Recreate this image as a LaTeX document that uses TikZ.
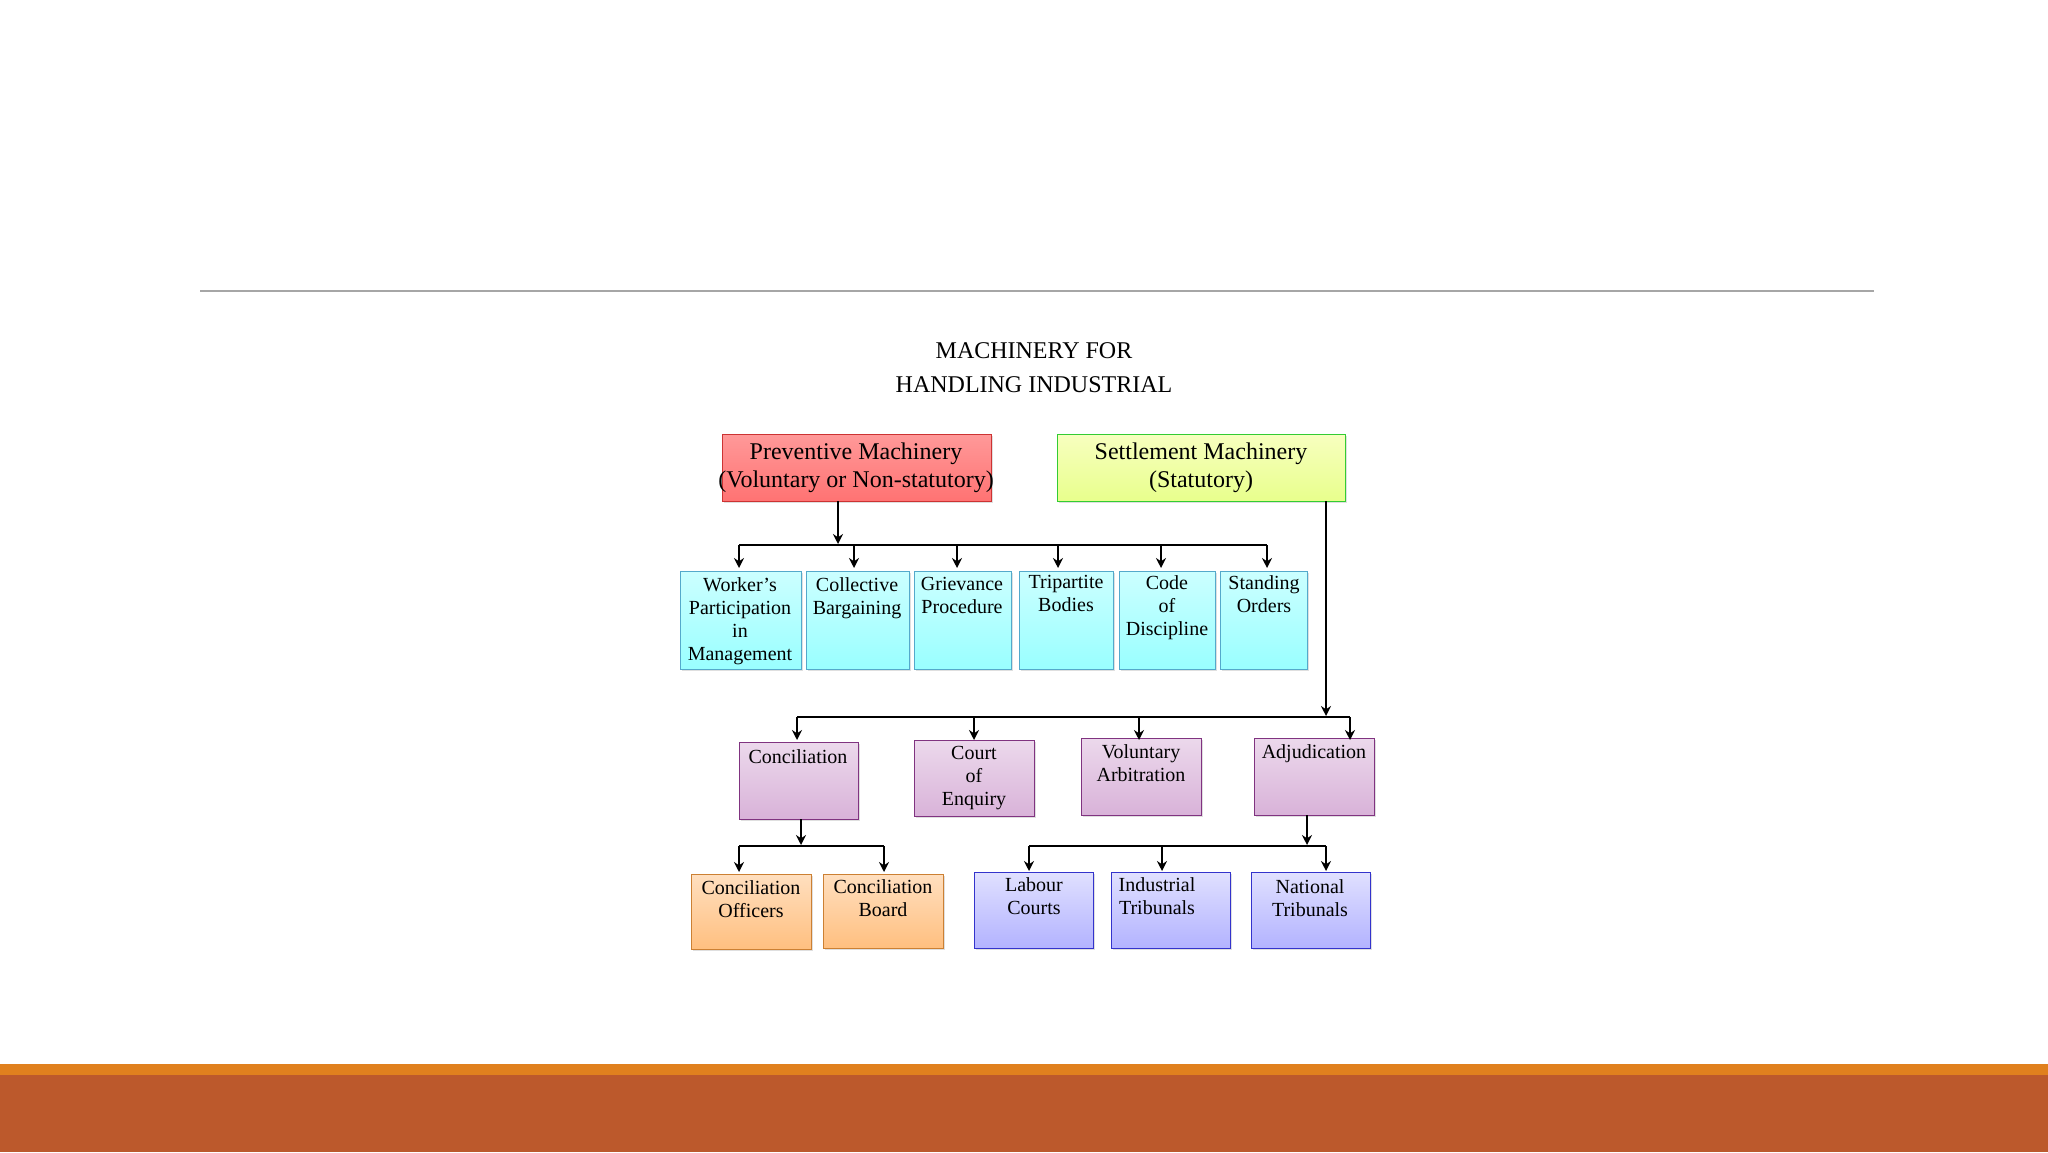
\documentclass[tikz,border=0pt]{standalone}
\usepackage{fontspec}
\setmainfont{Liberation Serif}
\usetikzlibrary{arrows.meta,shadows}
\begin{document}
\begin{tikzpicture}[x=0.5pt,y=-0.5pt,
 conn/.style={line width=1.1pt,-{Stealth[length=5pt,width=5pt]}},
 bus/.style={line width=1.1pt},
 bbox/.style={draw=#1!60!gray,line width=0.5pt,drop shadow={shadow xshift=1pt,shadow yshift=-1pt,opacity=0.25}},
 txt/.style={font=\fontsize{10}{11.5}\selectfont,align=center,anchor=north,inner sep=0pt}]
\useasboundingbox (0,0) rectangle (2048,1152);
\fill[white] (0,0) rectangle (2048,1152);
\draw[gray!70,line width=0.6pt] (200,291) -- (1874,291);
\fill[orange!85!red!90!black] (0,1064) rectangle (2048,1074);
\fill[orange!60!red!70!black,fill=red!30!orange!75!black] (0,1074) rectangle (2048,1152);
\fill[color={rgb,255:red,224;green,128;blue,30}] (0,1064) rectangle (2048,1075);
\fill[color={rgb,255:red,188;green,89;blue,44}] (0,1075) rectangle (2048,1152);
\node[font=\fontsize{12}{17}\selectfont,align=center] (title) at (1034,368) {MACHINERY FOR\\HANDLING INDUSTRIAL};
\newcommand\bx[8]{%
 \path[bbox=#6,top color=#7,bottom color=#8] (#2,#3) rectangle (#4,#5);
 \coordinate (#1) at ({(#2+#4)/2},{(#3+#5)/2});
 \coordinate (#1n) at ({(#2+#4)/2},#3);}
% top
\bx{prev}{722}{434}{991}{501}{red}{red!40!white}{red!55!white}
\node[txt,font=\fontsize{12}{14}\selectfont] (prevt) at (856,442) {Preventive Machinery\\(Voluntary or Non-statutory)};
\bx{sett}{1057}{434}{1345}{501}{green}{green!12!yellow!25!white}{green!20!yellow!45!white}
\node[txt,font=\fontsize{12}{14}\selectfont] (settt) at (1201,442) {Settlement Machinery\\(Statutory)};
% cyan row
\def\ct{cyan!20!white}\def\cb{cyan!40!white}
\bx{a1}{680}{571}{801}{669}{cyan}{\ct}{\cb}
\bx{a2}{806}{571}{909}{669}{cyan}{\ct}{\cb}
\bx{a3}{914}{571}{1011}{669}{cyan}{\ct}{\cb}
\bx{a4}{1019}{571}{1113}{669}{cyan}{\ct}{\cb}
\bx{a5}{1119}{571}{1215}{669}{cyan}{\ct}{\cb}
\bx{a6}{1220}{571}{1307}{669}{cyan}{\ct}{\cb}
\node[txt] (t1) at (740,577) {Worker's\\Participation\\in\\Management};
\node[txt] (t2) at (857,577) {Collective\\Bargaining};
\node[txt] (t3) at (962,577) {Grievance\\Procedure};
\node[txt] (t4) at (1066,575) {Tripartite\\Bodies};
\node[txt] (t5) at (1167,575) {Code\\of\\Discipline};
\node[txt] (t6) at (1264,575) {Standing\\Orders};
\draw[conn] (838,501) -- (838,544);
\draw[bus] (739,545) -- (1267,545);
\foreach \x in {739,854,957,1058,1161,1267} \draw[conn] (\x,545) -- (\x,568);
% purple row
\def\pt{violet!15!white}\def\pb{violet!30!white}
\bx{c1}{739}{742}{858}{819}{violet}{\pt}{\pb}
\bx{c2}{914}{740}{1034}{816}{violet}{\pt}{\pb}
\bx{c3}{1081}{738}{1201}{815}{violet}{\pt}{\pb}
\bx{c4}{1254}{738}{1374}{815}{violet}{\pt}{\pb}
\node[txt] (u1) at (798,749) {Conciliation};
\node[txt] (u2) at (974,746) {Court\\of\\Enquiry};
\node[txt] (u3) at (1141,744) {Voluntary\\Arbitration};
\node[txt] (u4) at (1314,744) {Adjudication};
\draw[conn] (1326,501) -- (1326,716);
\draw[bus] (797,717) -- (1350,717);
\foreach \x in {797,974,1139,1350} \draw[conn] (\x,717) -- (\x,740);
% bottom
\def\ot{orange!25!white}\def\ob{orange!50!white}
\def\lt{blue!12!white}\def\lb{blue!30!white}
\bx{d1}{691}{874}{811}{949}{orange}{\ot}{\ob}
\bx{d2}{823}{874}{943}{948}{orange}{\ot}{\ob}
\bx{e1}{974}{872}{1093}{948}{blue}{\lt}{\lb}
\bx{e2}{1111}{872}{1230}{948}{blue}{\lt}{\lb}
\bx{e3}{1251}{872}{1370}{948}{blue}{\lt}{\lb}
\node[txt] (v1) at (751,880) {Conciliation\\Officers};
\node[txt] (v2) at (883,879) {Conciliation\\Board};
\node[txt] (w1) at (1034,877) {Labour\\Courts};
\node[txt] (w2) at (1157,877) {Industrial\\Tribunals};
\node[txt] (w3) at (1310,879) {National\\Tribunals};
\draw[conn] (801,819) -- (801,845);
\draw[bus] (739,846) -- (884,846);
\foreach \x in {739,884} \draw[conn] (\x,846) -- (\x,872);
\draw[conn] (1307,815) -- (1307,845);
\draw[bus] (1029,846) -- (1326,846);
\foreach \x in {1029,1162,1326} \draw[conn] (\x,846) -- (\x,871);
\end{tikzpicture}
\end{document}
